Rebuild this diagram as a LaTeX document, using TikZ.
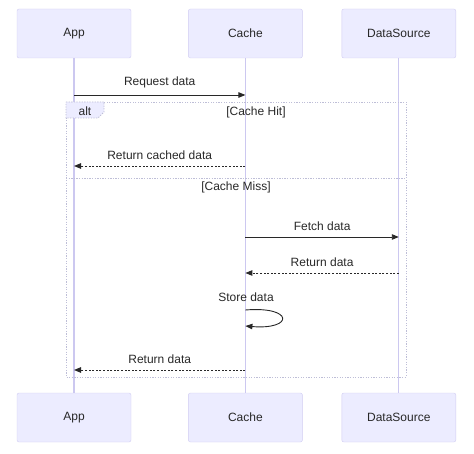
\documentclass[tikz,border=0pt]{standalone}
\definecolor{actorfill}{RGB}{236, 236, 255}
\definecolor{actorline}{RGB}{208, 204, 242}
\definecolor{lifeline}{RGB}{204, 200, 240}
\definecolor{framegray}{RGB}{190, 190, 215}
\definecolor{textdark}{RGB}{40, 40, 40}
\usepackage{tikz}
\usepackage{fontspec}
\setmainfont{Liberation Sans}
\usetikzlibrary{shapes,arrows,arrows.meta,positioning,calc}

\tikzset{
    actor/.style={rectangle, draw=actorline, fill=actorfill, rounded corners=2pt, minimum width=114pt, minimum height=49pt, text=textdark, font=\fontsize{12}{14}\selectfont},
    msg/.style={-{Triangle[length=7pt,width=5.5pt]}, line width=0.9pt, color=textdark},
    reply/.style={msg, dash pattern=on 2pt off 1.6pt},
    msgtext/.style={text=textdark, font=\fontsize{12}{14}\selectfont},
    life/.style={line width=1.1pt, color=lifeline},
    altframe/.style={draw=framegray, line width=0.8pt, dash pattern=on 1.3pt off 1.3pt}
}

\begin{document}
\begin{tikzpicture}[x=1pt, y=-1pt]
    \useasboundingbox (0,0) rectangle (474,454);

    % Participants (top)
    \node[actor] (app_top) at (74,33.5) {App};
    \node[actor, right=57pt of app_top] (cache_top) {Cache};
    \node[actor, right=39pt of cache_top] (ds_top) {DataSource};

    % Participants (bottom)
    \node[actor] (app_bot) at (74,417.5) {App};
    \node[actor] (cache_bot) at (cache_top |- app_bot) {Cache};
    \node[actor] (ds_bot) at (ds_top |- app_bot) {DataSource};

    % Lifelines
    \draw[life] (app_top) -- (app_bot);
    \draw[life] (cache_top) -- (cache_bot);
    \draw[life] (ds_top) -- (ds_bot);

    % Alt frame
    \draw[altframe] (66,102) rectangle (406,377);
    \draw[altframe] (66,178) -- (406,178);
    \filldraw[altframe, fill=actorfill] (66,102) -- (104,102) -- (104,112) -- (98,118) -- (66,118) -- cycle;
    \node[msgtext] (alt_tag) at (85,111) {alt};
    \node[msgtext] (hit_guard) at (256,112) {[Cache Hit]};
    \node[msgtext] (miss_guard) at (236,187) {[Cache Miss]};

    % Message anchors
    \coordinate (req_a) at (app_top |- 0,95);
    \coordinate (req_c) at (cache_top |- 0,95);
    \coordinate (hit_c) at (cache_top |- 0,166);
    \coordinate (hit_a) at (app_top |- 0,166);
    \coordinate (fetch_c) at (cache_top |- 0,237);
    \coordinate (fetch_d) at (ds_top |- 0,237);
    \coordinate (back_d) at (ds_top |- 0,273);
    \coordinate (back_c) at (cache_top |- 0,273);
    \coordinate (store_s) at (cache_top |- 0,310);
    \coordinate (store_e) at (cache_top |- 0,326);
    \coordinate (ret_c) at (cache_top |- 0,370);
    \coordinate (ret_a) at (app_top |- 0,370);

    % Messages
    \draw[msg] (req_a) -- (req_c) node[msgtext, midway, above=3pt] {Request data};
    \draw[reply] (hit_c) -- (hit_a) node[msgtext, midway, above=3pt] {Return cached data};
    \draw[msg] (fetch_c) -- (fetch_d) node[msgtext, midway, above=3pt] {Fetch data};
    \draw[reply] (back_d) -- (back_c) node[msgtext, midway, above=3pt] {Return data};
    \node[msgtext] (store_lbl) at (246,297) {Store data};
    \draw[msg] (store_s) .. controls (294,306) and (294,330) .. (store_e);
    \draw[reply] (ret_c) -- (ret_a) node[msgtext, midway, above=3pt] {Return data};
\end{tikzpicture}
\end{document}
